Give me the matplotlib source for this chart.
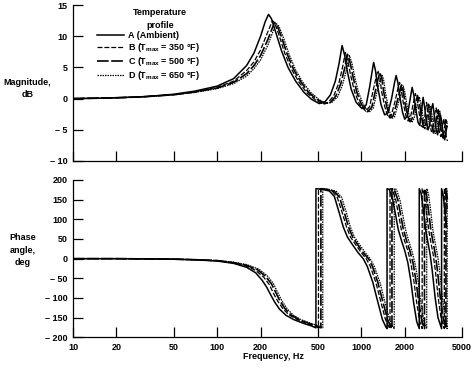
import matplotlib
matplotlib.use("Agg")
import matplotlib.pyplot as plt

plt.rcParams['font.family'] = ['Liberation Sans', 'DejaVu Sans']
plt.rcParams['font.weight'] = 'bold'
plt.rcParams['mathtext.fontset'] = 'custom'
plt.rcParams['mathtext.rm'] = 'Liberation Sans:bold'
plt.rcParams['mathtext.it'] = 'Liberation Sans:bold'
plt.rcParams['mathtext.bf'] = 'Liberation Sans:bold'

# ---- magnitude, dB ----
freq_mag_a = [10, 15, 20, 30, 40, 50, 70, 100, 130, 160, 180, 200, 215, 227, 238, 255, 280, 310,
              350, 400, 450, 510, 560, 610, 660, 700, 735, 765, 800, 850, 920, 1010, 1080, 1140,
              1190, 1216, 1250, 1300, 1370, 1450, 1530, 1620, 1700, 1742, 1790, 1850, 1930, 2000,
              2080, 2160, 2249, 2310, 2390, 2470, 2540, 2600, 2680, 2740, 2820, 2900, 2970, 3050,
              3130, 3200, 3300, 3380, 3450, 3530, 3600, 3700, 3780, 3850, 3920]
mag_a = [0.0, 0.05, 0.15, 0.3, 0.5, 0.7, 1.2, 2.0, 3.2, 5.3, 7.3, 10.0, 12.3, 13.5, 12.8, 10.6, 7.6, 5.0,
         2.8, 1.0, -0.1, -0.8, -0.5, 0.6, 2.8, 5.6, 8.5, 7.0, 4.3, 1.5, -0.6, -1.6, -1.0, 1.8,
         4.5, 5.8, 4.6, 1.8, -1.0, -2.6, -2.3, 0.0, 2.6, 3.7, 2.6, 0.2, -2.2, -3.3,
         -2.8, -0.6, 1.8, 0.6, -1.8, -3.8, -4.3, -2.5, 0.2, -1.2, -3.6, -5.0, -4.3, -1.8,
         -0.8, -2.6, -5.0, -5.8, -4.2, -2.6, -3.6, -5.8, -6.6, -5.5, -4.5]

freq_mag_b = [10, 20, 30, 50, 70, 100, 130, 160, 180, 200, 220, 235, 242, 252, 270, 295, 330, 370,
              420, 480, 540, 590, 645, 700, 740, 775, 805, 845, 900, 970, 1070, 1140, 1210, 1270,
              1300, 1340, 1380, 1450, 1530, 1610, 1710, 1800, 1840, 1890, 1950, 2040, 2110, 2190,
              2280, 2370, 2440, 2520, 2600, 2680, 2750, 2830, 2890, 2980, 3060, 3130, 3220, 3300,
              3380, 3480, 3560, 3640, 3720, 3800, 3900, 3950]
mag_b = [0.0, 0.14, 0.28, 0.65, 1.1, 1.8, 2.8, 4.5, 5.9, 7.8, 10.2, 11.8, 12.5, 12.0, 10.0, 7.2, 4.6, 2.6,
         0.9, -0.2, -0.9, -0.6, 0.5, 2.6, 5.0, 7.4, 6.0, 3.6, 1.0, -0.9, -2.0, -1.3, 1.4, 3.6,
         4.5, 3.6, 1.2, -1.2, -3.0, -2.7, -0.5, 1.8, 2.6, 1.6, -0.6, -2.8, -3.6, -3.0,
         -1.0, 0.8, -0.3, -2.4, -4.4, -4.6, -3.0, -0.6, -1.8, -4.0, -5.3, -4.8, -2.5, -1.5,
         -3.2, -5.4, -6.1, -4.8, -3.2, -4.4, -6.4, -6.8]

freq_mag_c = [10, 20, 30, 50, 70, 100, 130, 160, 180, 200, 225, 240, 250, 260, 280, 305, 340, 380,
              430, 490, 555, 610, 665, 720, 765, 800, 835, 875, 930, 1000, 1100, 1180, 1250, 1310,
              1345, 1385, 1430, 1500, 1580, 1660, 1760, 1860, 1900, 1950, 2010, 2100, 2180, 2260,
              2350, 2450, 2520, 2600, 2690, 2770, 2840, 2920, 2990, 3080, 3160, 3240, 3330, 3410,
              3490, 3590, 3680, 3760, 3850, 3930]
mag_c = [0.0, 0.13, 0.27, 0.62, 1.05, 1.7, 2.6, 4.0, 5.3, 6.9, 9.5, 11.2, 12.2, 11.8, 9.8, 7.2, 4.6, 2.7,
         1.0, -0.1, -0.8, -0.6, 0.4, 2.4, 4.8, 7.1, 5.8, 3.5, 1.0, -0.9, -2.1, -1.4, 1.2, 3.3,
         4.1, 3.3, 1.0, -1.3, -3.1, -2.8, -0.7, 1.4, 2.2, 1.3, -0.8, -2.9, -3.7, -3.1,
         -1.2, 0.5, -0.6, -2.6, -4.5, -4.8, -3.2, -0.9, -2.1, -4.2, -5.5, -5.0, -2.8, -1.8,
         -3.4, -5.6, -6.3, -5.1, -3.4, -4.6]

freq_mag_d = [10, 20, 30, 50, 70, 100, 130, 160, 180, 200, 225, 245, 258, 268, 290, 315, 350, 390,
              445, 505, 570, 625, 685, 740, 790, 826, 860, 900, 955, 1030, 1130, 1210, 1280, 1350,
              1390, 1425, 1470, 1540, 1620, 1700, 1800, 1910, 1950, 2000, 2070, 2160, 2240, 2320,
              2420, 2520, 2590, 2670, 2760, 2850, 2920, 3000, 3070, 3160, 3250, 3330, 3420, 3500,
              3580, 3690, 3780, 3860, 3950]
mag_d = [0.0, 0.12, 0.26, 0.6, 1.0, 1.6, 2.4, 3.6, 4.8, 6.2, 8.6, 10.9, 12.0, 11.6, 9.6, 7.1, 4.6, 2.7,
         1.0, -0.1, -0.8, -0.6, 0.3, 2.2, 4.7, 6.9, 5.7, 3.4, 1.0, -0.9, -2.2, -1.5, 1.0, 3.0,
         3.8, 3.1, 0.9, -1.4, -3.2, -2.9, -0.8, 1.2, 2.0, 1.1, -1.0, -3.0, -3.8, -3.2,
         -1.3, 0.3, -0.8, -2.8, -4.6, -4.9, -3.3, -1.1, -2.2, -4.3, -5.6, -5.1, -3.0, -2.0,
         -3.5, -5.8, -6.5, -5.2, -3.6]

# ---- phase angle, deg (wraps repeated at same frequency) ----
freq_ph_a = [10, 20, 30, 50, 70, 100, 130, 160, 185, 205, 220, 235, 250, 270, 300, 340, 400, 450, 484,
             484, 540, 600, 650, 700, 750, 800, 870, 950, 1030, 1100, 1200, 1300, 1400, 1480, 1507,
             1507, 1560, 1650, 1730, 1800, 1900, 2000, 2100, 2200, 2300, 2420, 2520,
             2520, 2600, 2700, 2800, 2900, 3000, 3100, 3250, 3400, 3600,
             3600, 3700, 3800, 3900]
ph_a = [0, 0, -0.5, -1.5, -3, -6, -12, -22, -36, -55, -72, -92, -110, -128, -144, -155, -165, -171, -176,
        178, 176, 172, 158, 118, 80, 55, 35, 15, 0, -20, -60, -110, -155, -174, -178,
        178, 176, 150, 110, 75, 45, 20, -10, -55, -110, -160, -178,
        178, 165, 120, 70, 40, 10, -30, -100, -150, -178,
        178, 160, 120, 80]

freq_ph_b = [10, 20, 30, 50, 70, 100, 130, 160, 185, 210, 230, 247, 263, 285, 315, 360, 420, 470, 504,
             504, 560, 630, 680, 735, 790, 840, 915, 1000, 1080, 1155, 1260, 1365, 1470, 1555, 1580,
             1580, 1640, 1730, 1815, 1890, 1995, 2100, 2200, 2310, 2415, 2540, 2640,
             2640, 2730, 2830, 2940, 3040, 3150, 3260, 3410, 3570, 3760,
             3760, 3860, 3950]
ph_b = [0, 0, -0.5, -1.4, -2.8, -5.5, -11, -19, -30, -47, -66, -90, -108, -127, -143, -155, -165, -171, -176,
        178, 176, 171, 156, 118, 80, 55, 35, 15, 0, -20, -60, -110, -155, -174, -178,
        178, 176, 150, 110, 75, 45, 20, -10, -55, -110, -160, -178,
        178, 165, 120, 70, 40, 10, -30, -100, -150, -178,
        178, 160, 125]

freq_ph_c = [10, 20, 30, 50, 70, 100, 130, 160, 190, 215, 238, 258, 273, 295, 325, 370, 435, 490, 524,
             524, 580, 650, 705, 760, 815, 870, 945, 1030, 1120, 1195, 1300, 1410, 1520, 1605, 1630,
             1630, 1690, 1790, 1875, 1955, 2060, 2170, 2280, 2390, 2500, 2630, 2740,
             2740, 2820, 2930, 3040, 3150, 3260, 3370, 3530, 3690, 3860,
             3860, 3950]
ph_c = [0, 0, -0.5, -1.3, -2.6, -5, -10, -17, -28, -44, -64, -90, -108, -127, -143, -155, -165, -171, -176,
        178, 176, 171, 156, 118, 80, 55, 35, 15, 0, -20, -60, -110, -155, -174, -178,
        178, 176, 150, 110, 75, 45, 20, -10, -55, -110, -160, -178,
        178, 165, 120, 70, 40, 10, -30, -100, -150, -178,
        178, 150]

freq_ph_d = [10, 20, 30, 50, 70, 100, 130, 160, 195, 222, 246, 266, 282, 305, 335, 380, 450, 505, 540,
             540, 600, 670, 730, 785, 840, 895, 975, 1065, 1150, 1230, 1345, 1455, 1570, 1660, 1690,
             1690, 1750, 1850, 1940, 2020, 2130, 2240, 2350, 2470, 2580, 2720, 2840,
             2840, 2920, 3030, 3140, 3250, 3370, 3490, 3650, 3810, 3935,
             3935]
ph_d = [0, 0, -0.5, -1.2, -2.4, -4.6, -9, -15, -27, -43, -64, -90, -108, -127, -143, -155, -165, -171, -176,
        178, 176, 171, 156, 118, 80, 55, 35, 15, 0, -20, -60, -110, -155, -174, -178,
        178, 176, 150, 110, 75, 45, 20, -10, -55, -110, -160, -178,
        178, 165, 120, 70, 40, 10, -30, -100, -150, -178,
        178]

labels = ['A (Ambient)', r'B (T$_{\mathrm{max}}$ = 350 °F)', r'C (T$_{\mathrm{max}}$ = 500 °F)',
          r'D (T$_{\mathrm{max}}$ = 650 °F)']
styles = [dict(ls='-', lw=1.1), dict(ls=(0, (4, 1.5)), lw=0.9),
          dict(ls=(0, (7, 1.5)), lw=1.2), dict(ls=(0, (1.2, 0.8)), lw=0.9)]

freq_ticks = [10, 20, 50, 100, 200, 500, 1000, 2000, 5000]
mag_ticks = [15, 10, 5, 0, -5, -10]
ph_ticks = [200, 150, 100, 50, 0, -50, -100, -150, -200]


def fmt(v):
    return '\u2013 ' + str(abs(v)) if v < 0 else str(v)


fig = plt.figure(figsize=(4.74, 3.69), dpi=100)
ax1 = fig.add_axes([0.154, 0.5637, 0.821, 0.4227])
ax2 = fig.add_axes([0.154, 0.0859, 0.821, 0.4263])

mag_sets = [(freq_mag_a, mag_a), (freq_mag_b, mag_b), (freq_mag_c, mag_c), (freq_mag_d, mag_d)]
ph_sets = [(freq_ph_a, ph_a), (freq_ph_b, ph_b), (freq_ph_c, ph_c), (freq_ph_d, ph_d)]

for (f, m), lab, st in zip(mag_sets, labels, styles):
    ax1.plot(f, m, color='black', label=lab, **st)
for (f, p), st in zip(ph_sets, styles):
    ax2.plot(f, p, color='black', **st)

for ax, ticks in [(ax1, mag_ticks), (ax2, ph_ticks)]:
    ax.set_xscale('log')
    ax.set_xlim(10, 5000)
    ax.set_ylim(min(ticks), max(ticks))
    ax.set_xticks(freq_ticks)
    ax.minorticks_off()
    ax.set_yticks(ticks)
    ax.set_yticklabels([fmt(t) for t in ticks])
    ax.spines['top'].set_visible(False)
    ax.spines['right'].set_visible(False)
    ax.tick_params(direction='in', length=7, width=0.9, labelsize=6.5, pad=4)
    for s in ['left', 'bottom']:
        ax.spines[s].set_linewidth(0.9)

ax1.set_xticklabels([])
ax2.set_xticklabels([str(t) for t in freq_ticks])

# legend: entries start below the title, which is placed as its own text
leg = ax1.legend(loc='upper left', bbox_to_anchor=(0.062, 0.832), frameon=False,
                 fontsize=6.5, handlelength=3.0, handletextpad=0.45,
                 labelspacing=0.12, borderaxespad=0.0, borderpad=0.0)
fig.text(0.338, 0.948, 'Temperature\nprofile', ha='center', va='center', fontsize=6.5,
         multialignment='center', linespacing=1.5)

fig.text(0.058, 0.76, 'Magnitude,\ndB', ha='center', va='center', fontsize=6.5, linespacing=1.5)
fig.text(0.048, 0.322, 'Phase\nangle,\ndeg', ha='center', va='center', fontsize=6.5, linespacing=1.5)
fig.text(0.576, 0.033, 'Frequency, Hz', ha='center', va='center', fontsize=6.5)

fig.savefig('out.png', dpi=100)
